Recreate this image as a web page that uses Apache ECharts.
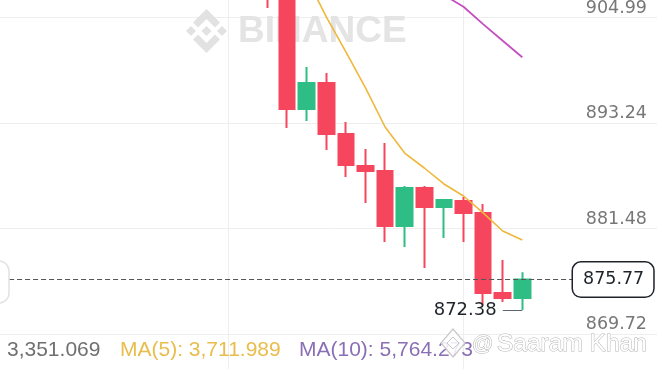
<!DOCTYPE html>
<html><head><meta charset="utf-8">
<script src="https://cdn.jsdelivr.net/npm/echarts@6/dist/echarts.min.js"></script>
<style>html,body{margin:0;padding:0;background:#fff}#c{width:657px;height:369px}</style>
</head><body><div id="c"></div>
<script>
// ---- data ----
const slots = ['01','02','03','04','05','06','07','08','09','10','11','12','13','14','15','16','17','18',
  '19','20','21','22','23','24','25','26','27','28','29','30','31','32','33','34','35'];
const candleStart = 14;
const opens  = [915.00, 909.20, 894.78, 897.67, 891.99, 888.42, 887.87, 881.74, 885.97, 883.85, 884.52, 883.19, 874.27, 873.71];
const closes = [909.20, 894.78, 897.67, 891.99, 888.53, 887.87, 881.74, 885.97, 883.85, 884.63, 883.19, 874.27, 873.71, 875.77];
const lows   = [906.03, 892.66, 893.44, 890.21, 887.20, 884.30, 879.95, 879.40, 877.06, 880.40, 879.95, 872.90, 873.27, 872.38];
const highs  = [917.00, 911.00, 899.46, 898.79, 893.33, 890.32, 890.99, 886.19, 886.19, 884.75, 884.97, 884.19, 877.95, 876.57];
const ma7    = [917.2, 913.5, 909.4, 905.03, 901.13, 897.12, 892.77, 889.87, 888.20, 886.42, 885.08, 883.19, 881.18, 880.18];
const ma25   = [null, null, null, null, null, null, null, null, 908.8, 907.48, 906.17, 904.24, 902.38, 900.54];
const tickBase = 869.7233;
const tickStep = 11.7567;
const lastPrice = 875.77;
const lowPrice = 872.38;
const lowFromSlot = '27', lowToSlot = '28';
const volText = '3,351.069';
const volMa5Text = 'MA(5): 3,711.989';
const volMa10Text = 'MA(10): 5,764.273';
const vGridSlots = [12, 24];

// ---- build ----
const candleData = slots.map((s, i) => {
  const k = i - candleStart;
  return (k >= 0 && k < opens.length) ? [opens[k], closes[k], lows[k], highs[k]] : '-';
});
const pad = arr => slots.map((s, i) => {
  const k = i - candleStart;
  return (k >= 0 && k < arr.length && arr[k] != null) ? arr[k] : null;
});

const UP = '#2ebd85', DOWN = '#f6465d';
const chart = echarts.init(document.getElementById('c'), null, {renderer: 'canvas'});
chart.setOption({
  animation: false,
  backgroundColor: '#ffffff',
  grid: {left: -6.9, right: -2.5, top: -88.2, bottom: -70.3, containLabel: false, outerBoundsMode: 'none'},
  xAxis: {
    type: 'category', data: slots, boundaryGap: false,
    axisLine: {show: false}, axisTick: {show: false}, axisLabel: {show: false},
    splitLine: {show: true, interval: (i) => vGridSlots.indexOf(i) >= 0, lineStyle: {color: '#eeeeee', width: 1}}
  },
  yAxis: {
    type: 'value', position: 'right', scale: true,
    min: tickBase - tickStep, max: tickBase + 4 * tickStep, interval: tickStep,
    axisLine: {show: false}, axisTick: {show: false},
    splitLine: {show: true, lineStyle: {color: '#eeeeee', width: 1}},
    axisLabel: {
      inside: true, margin: 12.5, color: '#777777', fontFamily: 'DejaVu Sans', fontSize: 17.5,
      verticalAlign: 'bottom', lineHeight: 18,
      formatter: v => v.toFixed(2)
    }
  },
  series: [
    {
      type: 'candlestick', data: candleData, barWidth: 16, z: 3,
      itemStyle: {color: UP, color0: DOWN, borderColor: UP, borderColor0: DOWN, borderWidth: 2},
      markLine: {
        silent: true, symbol: ['none', 'none'], z: 6,
        data: [
          {
            yAxis: lastPrice,
            lineStyle: {type: [5, 3], color: '#555555', width: 1.2},
            label: {
              show: true, position: 'end', distance: -86.5,
              formatter: p => p.value.toFixed(2),
              color: '#1e2329', fontFamily: 'DejaVu Sans', fontSize: 17.5, lineHeight: 20,
              backgroundColor: '#ffffff', borderColor: '#1e2329', borderWidth: 1.5, borderRadius: 8,
              padding: [7, 9, 7, 10]
            }
          },
          [
            {
              coord: [lowFromSlot, lowPrice],
              lineStyle: {type: 'solid', color: '#5e6673', width: 1},
              label: {
                show: true, position: 'start', distance: 6,
                formatter: () => lowPrice.toFixed(2),
                color: '#1e2329', fontFamily: 'DejaVu Sans', fontSize: 18, padding: [4, 0, 0, 0]
              }
            },
            {coord: [lowToSlot, lowPrice]}
          ]
        ]
      }
    },
    {
      type: 'line', data: pad(ma7), showSymbol: false, symbol: 'none', z: 4,
      lineStyle: {color: '#eeb83a', width: 1.6}
    },
    {
      type: 'line', data: pad(ma25), showSymbol: false, symbol: 'none', z: 4,
      lineStyle: {color: '#c34fc0', width: 1.8}
    }
  ],
  graphic: [
    // Binance watermark
    {type: 'polygon', z: 1, shape: {points: [[206.5,9],[220,22.5],[215,27.5],[206.5,19],[198,27.5],[193,22.5]]}, style: {fill: '#e2e2e2'}},
    {type: 'polygon', z: 1, shape: {points: [[206.5,53],[220,39.5],[215,34.5],[206.5,43],[198,34.5],[193,39.5]]}, style: {fill: '#e2e2e2'}},
    {type: 'polygon', z: 1, shape: {points: [[206.5,26],[211.5,31],[206.5,36],[201.5,31]]}, style: {fill: '#e2e2e2'}},
    {type: 'polygon', z: 1, shape: {points: [[191,26],[196,31],[191,36],[186,31]]}, style: {fill: '#e2e2e2'}},
    {type: 'polygon', z: 1, shape: {points: [[222,26],[227,31],[222,36],[217,31]]}, style: {fill: '#e2e2e2'}},
    {type: 'text', z: 1, x: 238, y: 31.5, style: {text: 'BINANCE', font: 'bold 37px "Liberation Sans"', fill: '#e4e4e4', verticalAlign: 'middle'}},
    // cut-off box on the left
    {type: 'rect', z: 100, shape: {x: -70, y: 261, width: 79, height: 42, r: 10}, style: {fill: '#ffffff', stroke: '#e2e2e2', lineWidth: 1.5}},
    // volume legend
    {type: 'text', z: 100, x: 7, y: 350, style: {text: volText, font: '21px "Liberation Sans"', fill: '#707070', verticalAlign: 'middle'}},
    {type: 'text', z: 100, x: 120, y: 350, style: {text: volMa5Text, font: '21px "Liberation Sans"', fill: '#e9bd4c', verticalAlign: 'middle'}},
    {type: 'text', z: 100, x: 299, y: 350, style: {text: volMa10Text, font: '21px "Liberation Sans"', fill: '#8b6fb5', verticalAlign: 'middle'}},
    // author watermark
    {type: 'polygon', z: 101, shape: {points: [[453,329],[465,343],[453,357],[441,343]]}, style: {fill: 'rgba(255,255,255,0.85)', stroke: '#c8c8c8', lineWidth: 1.2}},
    {type: 'polygon', z: 101, shape: {points: [[453,337],[459,343],[453,349],[447,343]]}, style: {fill: 'none', stroke: '#c8c8c8', lineWidth: 1}},
    {type: 'text', z: 101, x: 472, y: 344, style: {text: '@', font: '21px "Liberation Sans"', fill: '#ffffff', stroke: '#b5b5b5', lineWidth: 1, verticalAlign: 'middle'}},
    {type: 'text', z: 101, x: 497, y: 344, style: {text: 'Saaram Khan', font: '24.5px "Liberation Sans"', fill: '#ffffff', stroke: '#b5b5b5', lineWidth: 1, verticalAlign: 'middle'}}
  ]
});
</script></body></html>
